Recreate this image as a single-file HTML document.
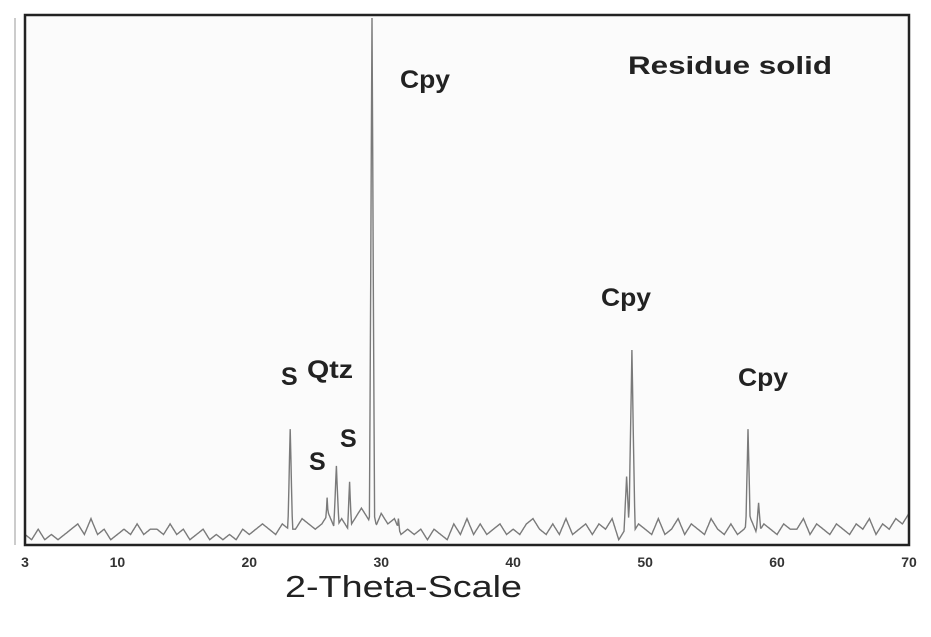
<!DOCTYPE html>
<html><head><meta charset="utf-8"><style>
html,body{margin:0;padding:0;background:#fff;}
svg{display:block;font-family:"Liberation Sans",sans-serif;}
.lbl{font-weight:bold;font-size:25px;fill:#222;}
.tick{font-weight:bold;font-size:14px;fill:#333;}
</style></head><body>
<svg id="chart" width="931" height="637" viewBox="0 0 931 637">
<rect x="25" y="15" width="884" height="530" fill="#fbfbfb"/>
<line x1="15" y1="18" x2="15" y2="545" stroke="#ccc" stroke-width="2"/>
<g id="series"></g>
<rect x="25" y="15" width="884" height="530" fill="none" stroke="#222" stroke-width="2.5"/>
<g id="ticks"></g>
<text x="628" y="74" class="lbl" textLength="204" lengthAdjust="spacingAndGlyphs">Residue solid</text>
<text x="400" y="88" class="lbl" textLength="50" lengthAdjust="spacingAndGlyphs">Cpy</text>
<text x="601" y="306" class="lbl" textLength="50" lengthAdjust="spacingAndGlyphs">Cpy</text>
<text x="738" y="386" class="lbl" textLength="50" lengthAdjust="spacingAndGlyphs">Cpy</text>
<text x="281" y="385" class="lbl">S</text>
<text x="307" y="378" class="lbl" textLength="46" lengthAdjust="spacingAndGlyphs">Qtz</text>
<text x="309" y="470" class="lbl">S</text>
<text x="340" y="447" class="lbl">S</text>
<text x="285" y="597" style="font-size:31px;fill:#222" textLength="237" lengthAdjust="spacingAndGlyphs">2-Theta-Scale</text>
</svg>
<script>
const tickValues=[3,10,20,30,40,50,60,70];
const noise=[2,1,3,1,2,1,2,3,4,2,5,2,3,1,2,3,2,4,2,3,3,2,4,2,3,1,2,3,1,2,1,2,1,3,2,3,4,3,2,4,3,3,5,4,3,4,6,3,5,3,5,7,5,3,6,4,5,2,3,2,3,1,3,2,1,4,2,5,2,4,2,3,4,2,3,2,4,5,3,2,4,2,5,2,3,4,2,4,3,5,1,3,2,4,3,2,5,2,3,5,2,4,3,2,5,3,2,4,2,3,5,2,4,3,2,4,3,3,5,2,4,3,2,4,3,2,4,3,5,2,4,3,5,4,6];
const peakPos=[23.1,25.9,26.6,27.6,29.3,29.3,31.3,48.6,49.0,51.0,57.8,58.6];
const peakHeight=[22,9,15,12,100,8,5,13,37,4,22,8];
const peakWidth=[0.2,0.2,0.25,0.2,0.2,0.6,0.2,0.25,0.25,0.2,0.2,0.25];
const X0=25,X1=909,Y0=545,YT=18;
function xs(v){return X0+(v-3)/(70-3)*(X1-X0);}
function ys(v){return Y0-v/100*(Y0-YT);}
const NS="http://www.w3.org/2000/svg";
const g=document.getElementById('series');
let pts=[];
for(let i=0;i<=1340;i++){
  const t=3+i*0.05;
  const k=Math.min(Math.floor((t-3)/0.5),noise.length-2);
  const f=((t-3)/0.5)-k;
  let v=noise[k]*(1-f)+noise[k+1]*f;
  for(let j=0;j<peakPos.length;j++){
    const d=Math.abs(t-peakPos[j]);
    if(d<peakWidth[j])v=Math.max(v,peakHeight[j]*(1-d/peakWidth[j]));
  }
  pts.push(xs(t).toFixed(1)+","+ys(v).toFixed(1));
}
const pl=document.createElementNS(NS,'polyline');


pl.setAttribute('points',pts.join(' '));
pl.setAttribute('fill','none');pl.setAttribute('stroke','#7a7a7a');pl.setAttribute('stroke-width','1.4');
g.appendChild(pl);
const tg=document.getElementById('ticks');
tickValues.forEach(v=>{
  const t=document.createElementNS(NS,'text');
  
  
  t.setAttribute('x',xs(v));t.setAttribute('y',567);
  t.setAttribute('text-anchor','middle');t.setAttribute('class','tick');
  t.textContent=v;tg.appendChild(t);
});
</script>
</body></html>
